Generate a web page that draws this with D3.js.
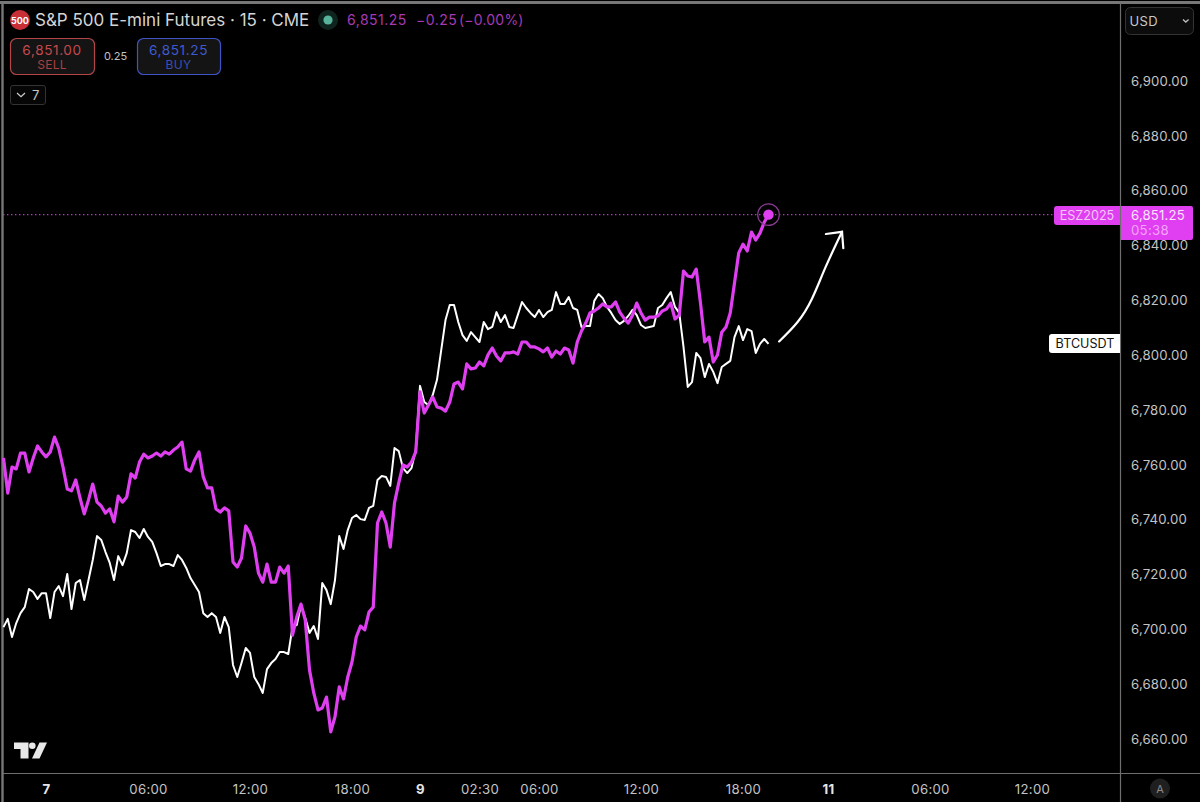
<!DOCTYPE html>
<html>
<head>
<meta charset="utf-8">
<script src="https://cdn.jsdelivr.net/npm/d3@7"></script>
<style>
html,body{margin:0;padding:0;background:#000;overflow:hidden}
svg{display:block}
text{font-family:Inter,"Noto Sans",sans-serif}
</style>
</head>
<body>
<svg id="c" width="1200" height="802"></svg>
<script>
const esValues = [6762.5,6749.7,6759.2,6758.5,6764.3,6764.3,6757.4,6762.5,6766.9,6764.7,6762.9,6764.7,6770.1,6766.1,6759.2,6751.2,6750.5,6754.5,6747.9,6742.1,6747.2,6753.0,6746.4,6745.0,6742.4,6743.9,6739.2,6748.6,6746.4,6748.3,6756.7,6755.2,6761.0,6763.9,6762.5,6763.2,6764.3,6763.2,6764.7,6763.9,6765.4,6766.5,6768.3,6758.5,6757.7,6761.8,6764.7,6755.6,6751.6,6751.6,6743.9,6742.8,6744.3,6743.2,6724.6,6722.7,6726.0,6737.7,6735.1,6730.0,6720.5,6717.2,6723.8,6717.2,6717.2,6722.7,6720.5,6723.1,6697.9,6704.5,6709.2,6703.4,6685.2,6676.8,6670.6,6671.3,6675.3,6662.6,6668.1,6679.0,6674.6,6682.6,6688.1,6697.2,6701.2,6699.8,6706.3,6708.1,6738.8,6742.8,6738.8,6730.0,6746.1,6753.4,6760.0,6759.2,6761.0,6764.7,6786.6,6778.9,6781.8,6784.7,6781.1,6780.7,6779.6,6782.9,6789.5,6790.2,6787.7,6796.8,6795.0,6795.3,6797.5,6796.1,6800.1,6802.6,6799.7,6797.9,6800.8,6800.8,6801.2,6800.4,6804.8,6804.8,6803.0,6803.0,6802.3,6801.2,6802.6,6799.3,6801.5,6800.4,6802.6,6801.9,6797.1,6804.8,6808.8,6811.7,6815.4,6816.1,6817.2,6818.7,6817.6,6817.6,6819.4,6815.7,6813.5,6811.7,6814.6,6819.0,6815.4,6812.8,6813.9,6813.9,6814.3,6816.1,6816.8,6819.0,6813.2,6814.6,6830.7,6828.9,6828.5,6831.4,6819.0,6804.8,6806.6,6797.5,6800.1,6808.4,6810.3,6815.4,6826.3,6837.3,6840.5,6838.0,6844.9,6842.0,6844.5,6848.5,6851.25];
const btcOverlayValues = [6700.8,6703.8,6697.2,6702.3,6705.9,6708.1,6714.7,6713.6,6711.1,6713.2,6713.2,6704.1,6713.6,6715.8,6712.1,6720.2,6707.4,6716.9,6718.0,6710.7,6718.0,6725.3,6734.0,6732.6,6728.2,6724.2,6718.0,6726.7,6723.4,6727.8,6736.2,6735.5,6733.3,6736.6,6733.7,6731.9,6727.8,6723.1,6723.8,6723.8,6723.1,6727.1,6725.3,6722.4,6718.7,6716.2,6713.6,6705.9,6704.5,6705.9,6704.5,6698.7,6704.5,6700.8,6687.0,6682.6,6687.7,6693.2,6691.4,6682.6,6680.0,6676.8,6685.5,6687.7,6689.2,6691.7,6691.7,6691.0,6700.8,6701.6,6708.9,6704.1,6698.7,6701.2,6696.5,6716.9,6714.3,6709.2,6718.0,6734.0,6729.3,6736.2,6740.6,6741.7,6740.2,6739.9,6744.3,6745.0,6754.5,6755.9,6755.6,6752.3,6766.1,6765.0,6758.8,6757.0,6758.8,6765.4,6788.8,6782.9,6781.8,6785.5,6791.0,6801.9,6812.8,6818.3,6818.3,6812.1,6807.3,6805.2,6808.4,6806.6,6804.8,6812.1,6809.5,6810.3,6815.7,6812.1,6814.6,6810.3,6809.9,6814.6,6819.4,6817.2,6815.4,6813.9,6816.5,6813.9,6815.7,6816.5,6823.0,6818.7,6818.7,6821.2,6817.2,6816.5,6810.3,6810.6,6810.6,6819.8,6822.3,6820.8,6817.6,6815.4,6812.8,6811.4,6812.5,6814.3,6816.5,6814.6,6811.0,6809.9,6810.3,6810.6,6817.2,6818.3,6820.8,6823.0,6817.6,6815.4,6803.0,6788.4,6790.2,6800.8,6798.9,6792.0,6796.8,6793.9,6789.8,6795.7,6796.8,6797.9,6806.6,6810.6,6805.5,6809.5,6808.8,6800.8,6804.1,6805.9,6804.1];
const priceTicks = [6660,6680,6700,6720,6740,6760,6780,6800,6820,6840,6860,6880,6900];
const timeTickBars = [10,34,58,82,98,112,126,150,174,194,218,242];
const timeTickLabels = ["7","06:00","12:00","18:00","9","02:30","06:00","12:00","18:00","11","06:00","12:00"];
const boldTimeLabels = ["7","9","11"];
const lastPrice = 6851.25;
const arrowBars = [182.5,186.8,190.2,193.4,197.3];
const arrowPrices = [6805,6812,6820.5,6832,6845];
const arrowHeadBars = [193.5,197.3,197.6];
const arrowHeadPrices = [6844.2,6845,6839];

const MAGENTA = "#df3ff0";
const svg = d3.select("#c");
const x = d3.scaleLinear().domain([0,242]).range([3.5,3.5+242*4.25]);
const y = d3.scaleLinear().domain([6660,6900]).range([739,81]);

svg.append("rect").attr("width",1200).attr("height",802).attr("fill","#000");

// price axis
const yAxis = d3.axisRight(y).tickValues(priceTicks).tickSize(0).tickPadding(0).tickFormat(d3.format(",.2f"));
const yG = svg.append("g").attr("transform","translate(1131,0)").call(yAxis);
yG.select(".domain").remove();
yG.selectAll("text").attr("x",0).attr("fill","#c4c4c4").attr("font-size",13.2).style("letter-spacing","0.15px");

// time axis
const xAxis = d3.axisBottom(x).tickValues(timeTickBars).tickSize(0).tickPadding(0)
  .tickFormat((d,i)=>timeTickLabels[i]);
const xG = svg.append("g").attr("transform","translate(0,789)").call(xAxis);
xG.select(".domain").remove();
xG.selectAll("text").attr("y",0).attr("dy","0.35em").attr("font-size",13.2).style("letter-spacing","0.3px")
  .attr("fill",(d,i)=>boldTimeLabels.includes(timeTickLabels[i])?"#e6e6e6":"#c4c4c4")
  .attr("font-weight",(d,i)=>boldTimeLabels.includes(timeTickLabels[i])?700:400);

// frame
const frame = svg.append("g").attr("stroke","#6e6e6e").attr("fill","none");
frame.append("line").attr("x1",0).attr("x2",1200).attr("y1",2.5).attr("y2",2.5).attr("stroke-width",3).attr("stroke","#777");
frame.append("line").attr("x1",2.5).attr("x2",2.5).attr("y1",2).attr("y2",802).attr("stroke-width",2.4).attr("stroke","#777");
frame.append("line").attr("x1",1120.5).attr("x2",1120.5).attr("y1",3).attr("y2",802).attr("stroke-width",1.2);
frame.append("line").attr("x1",3).attr("x2",1200).attr("y1",773.5).attr("y2",773.5).attr("stroke-width",1.2);

// last price line
svg.append("line").attr("x1",3).attr("x2",1120).attr("y1",y(lastPrice)).attr("y2",y(lastPrice))
  .attr("stroke","#b63cc4").attr("stroke-width",1.2).attr("stroke-dasharray","1.4 2.6");

const line = d3.line().x((d,i)=>x(i)).y(d=>y(d)).curve(d3.curveLinear);
svg.append("path").datum(btcOverlayValues).attr("d",line).attr("fill","none")
  .attr("stroke","#fff").attr("stroke-width",2).attr("stroke-linejoin","round");
svg.append("path").datum(esValues).attr("d",line).attr("fill","none")
  .attr("stroke",MAGENTA).attr("stroke-width",3.2).attr("stroke-linejoin","round");

// last point
const li = esValues.length-1;
svg.append("circle").attr("cx",x(li)).attr("cy",y(lastPrice)).attr("r",5.2).attr("fill",MAGENTA);
svg.append("circle").attr("cx",x(li)).attr("cy",y(lastPrice)).attr("r",10.8).attr("fill","none")
  .attr("stroke","#8a3a94").attr("stroke-width",1.2);

// hand-drawn arrow
svg.append("path").datum(arrowBars.map((b,i)=>[x(b),y(arrowPrices[i])]))
  .attr("d",d3.line().curve(d3.curveNatural)).attr("fill","none").attr("stroke","#fff").attr("stroke-width",2.2).attr("stroke-linecap","round");
svg.append("path").datum(arrowHeadBars.map((b,i)=>[x(b),y(arrowHeadPrices[i])]))
  .attr("d",d3.line()).attr("fill","none").attr("stroke","#fff").attr("stroke-width",2.2).attr("stroke-linecap","round");

// price labels
svg.append("path").attr("d","M1120 206H1057a3 3 0 0 0-3 3V222a3 3 0 0 0 3 3H1120Z").attr("fill",MAGENTA);
svg.append("text").attr("x",1087).attr("y",216).attr("dy","0.35em").attr("text-anchor","middle")
  .attr("font-size",12.6).attr("fill","#f5c8f8").text("ESZ2025");
svg.append("path").attr("d","M1121 206H1191a2 2 0 0 1 2 2V238a2 2 0 0 1-2 2H1121Z").attr("fill",MAGENTA);
svg.append("text").attr("x",1131).attr("y",215).attr("dy","0.35em").attr("font-size",13.2)
  .style("letter-spacing","0.15px").attr("fill","#fbe4fc").text("6,851.25");
svg.append("text").attr("x",1131).attr("y",230.5).attr("dy","0.35em").attr("font-size",13.2)
  .style("letter-spacing","0.3px").attr("fill","#f3a4f8").text("05:38");
svg.append("path").attr("d","M1120 334H1052a3 3 0 0 0-3 3V350a3 3 0 0 0 3 3H1120Z").attr("fill","#fff");
svg.append("text").attr("x",1085).attr("y",343.5).attr("dy","0.35em").attr("text-anchor","middle")
  .attr("font-size",12.6).attr("fill","#111").text("BTCUSDT");

// currency box
svg.append("rect").attr("x",1125.5).attr("y",7.5).attr("width",68).attr("height",27).attr("rx",5)
  .attr("fill","#0c0c0c").attr("stroke","#333");
svg.append("text").attr("x",1129.5).attr("y",21).attr("dy","0.35em").attr("font-size",13).attr("fill","#c8c8c8").style("letter-spacing","0.4px").text("USD");
svg.append("path").attr("d","M1183 19.5l2.8 2.6 2.8-2.6").attr("fill","none").attr("stroke","#c0c0c0").attr("stroke-width",1.3);

// legend
svg.append("circle").attr("cx",20).attr("cy",20).attr("r",10).attr("fill","#c92f37");
svg.append("text").attr("x",20).attr("y",20.5).attr("dy","0.35em").attr("text-anchor","middle")
  .attr("font-size",9).attr("font-weight",700).attr("fill","#fff").text("500");
svg.append("text").attr("x",35).attr("y",20.5).attr("dy","0.35em").attr("font-size",17).attr("fill","#d4d4d4")
  .text("S&P 500 E-mini Futures · 15 · CME");
svg.append("circle").attr("cx",328).attr("cy",20).attr("r",10).attr("fill","#10241f");
svg.append("circle").attr("cx",328).attr("cy",20).attr("r",4.6).attr("fill","#58b39d");
const legendColor="#a63ab4";
svg.append("text").attr("x",347).attr("y",20.5).attr("dy","0.35em").attr("font-size",14).style("letter-spacing","0.5px").attr("fill",legendColor).text("6,851.25");
svg.append("text").attr("x",416).attr("y",20.5).attr("dy","0.35em").attr("font-size",14).style("letter-spacing","0.5px").attr("fill",legendColor).text("−0.25");
svg.append("text").attr("x",459).attr("y",20.5).attr("dy","0.35em").attr("font-size",14).style("letter-spacing","0.2px").attr("fill",legendColor).text("(−0.00%)");

function tradeBox(x0,x1,stroke,col,price,lab){
  svg.append("rect").attr("x",x0+.5).attr("y",38.5).attr("width",x1-x0).attr("height",36).attr("rx",6)
    .attr("fill","#141414").attr("stroke",stroke).attr("stroke-width",1.2);
  const cx=(x0+x1)/2;
  svg.append("text").attr("x",cx).attr("y",50).attr("dy","0.35em").attr("text-anchor","middle").attr("font-size",13.6).style("letter-spacing","0.6px").attr("fill",col).text(price);
  svg.append("text").attr("x",cx).attr("y",65).attr("dy","0.35em").attr("text-anchor","middle").attr("font-size",12).style("letter-spacing","0.3px").attr("fill",col).attr("opacity",.85).text(lab);
}
tradeBox(10,94,"#b24648","#c4494c","6,851.00","SELL");
tradeBox(137,220,"#3d55c4","#3f5ad0","6,851.25","BUY");
svg.append("text").attr("x",115.5).attr("y",56).attr("dy","0.35em").attr("text-anchor","middle").attr("font-size",11).attr("fill","#c0c0c0").text("0.25");

svg.append("rect").attr("x",10.5).attr("y",85.5).attr("width",35).attr("height",19).attr("rx",2.5).attr("fill","#060606").attr("stroke","#333");
svg.append("path").attr("d","M17 93l4 3.6 4-3.6").attr("fill","none").attr("stroke","#cfcfcf").attr("stroke-width",1.2);
svg.append("text").attr("x",32).attr("y",95).attr("dy","0.35em").attr("font-size",13).attr("fill","#c8c8c8").text("7");

// logo
const logo=svg.append("g").attr("fill","#e8e8e8");
logo.append("path").attr("d","M14 742.5H28.5V758.5H20.5V749H14Z");
logo.append("circle").attr("cx",32.3).attr("cy",745.8).attr("r",3.3);
logo.append("path").attr("d","M39.5 742.5H47L39.5 758.5H32Z");

// auto button
svg.append("circle").attr("cx",1160).attr("cy",788.5).attr("r",10).attr("fill","#1f1f1f");
svg.append("text").attr("x",1160).attr("y",789).attr("dy","0.35em").attr("text-anchor","middle").attr("font-size",11).attr("fill","#8a8a8a").text("A");
</script>
</body>
</html>
